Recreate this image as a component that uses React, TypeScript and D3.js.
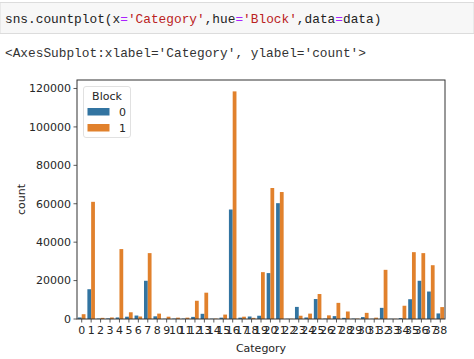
import React from "react";
import * as d3 from "d3";

const categories: number[] = Array.from({ length: 39 }, (_, i) => i);
const block0: number[] = [
  800, 15500, 200, 300, 800, 1200, 1800, 19900, 1400, 100,
  200, 200, 1100, 2700, 150, 700, 57000, 700, 1300, 1700,
  23900, 60300, 100, 6300, 800, 10400, 200, 1500, 600, 200,
  1000, 100, 5800, 100, 500, 10300, 19900, 14300, 2900,
];
const block1: number[] = [
  2500, 61000, 600, 800, 36400, 3500, 1300, 34300, 2800, 1200,
  700, 700, 9500, 13700, 200, 2300, 118500, 1200, 600, 24400,
  68200, 66100, 100, 1700, 2800, 13000, 1900, 8400, 3900, 200,
  3200, 700, 25600, 100, 6900, 34800, 34300, 28000, 6200,
];
const yTicks: number[] = [0, 20000, 40000, 60000, 80000, 100000, 120000];
const hueLevels: string[] = ["0", "1"];
const series: number[][] = [block0, block1];
const colors = ["#3274a1", "#e1812c"];

export default function App() {
  const W = 474, H = 359;
  const left = 77, right = 445, top = 80, bottom = 319;
  const ymax = d3.max(series.flat())! * 1.05;
  const x = d3.scaleLinear().domain([-0.5, categories.length - 0.5]).range([left, right]);
  const y = d3.scaleLinear().domain([0, ymax]).range([bottom, top]);
  const bw = x(0.4) - x(0);
  const mono = "'Liberation Mono', 'DejaVu Sans Mono', monospace";
  const sans = "'DejaVu Sans', sans-serif";
  const textCol = "#262626";

  return (
    <div style={{ position: "fixed", left: 0, top: 0, width: W, height: H, background: "#fff" }}>
      <svg width={W} height={H} style={{ display: "block" }}>
        <rect x={0} y={0} width={W} height={H} fill="#fff" />
        {/* code cell */}
        <rect x={0} y={2.5} width={W} height={31} fill="#f7f7f7" stroke="#dcdcdc" strokeWidth={1} />
        <text x={5} y={23} fontFamily={mono} fontSize={12.8} fill="#222">
          <tspan>sns.countplot(x</tspan>
          <tspan fill="#aa22ff">=</tspan>
          <tspan fill="#ba2121">'Category'</tspan>
          <tspan>,hue</tspan>
          <tspan fill="#aa22ff">=</tspan>
          <tspan fill="#ba2121">'Block'</tspan>
          <tspan>,data</tspan>
          <tspan fill="#aa22ff">=</tspan>
          <tspan>data)</tspan>
        </text>
        <text x={5} y={56.5} fontFamily={mono} fontSize={12.8} fill="#333">
          {"<AxesSubplot:xlabel='Category', ylabel='count'>"}
        </text>

        {/* bars */}
        {series.map((vals, h) =>
          vals.map((v, i) => (
            <rect
              key={`b${h}-${i}`}
              x={x(categories[i] - 0.4 + h * 0.4)}
              y={y(v)}
              width={bw}
              height={y(0) - y(v)}
              fill={colors[h]}
            />
          ))
        )}

        {/* spines */}
        <rect x={left} y={top} width={right - left} height={bottom - top} fill="none" stroke="#333" strokeWidth={1} />

        {/* y ticks */}
        {yTicks.map((t) => (
          <g key={`y${t}`}>
            <line x1={left - 3.5} x2={left} y1={y(t)} y2={y(t)} stroke="#333" strokeWidth={0.8} />
            <text x={left - 6} y={y(t)} dy="0.35em" textAnchor="end" fontFamily={sans} fontSize={11} fill={textCol}>
              {t}
            </text>
          </g>
        ))}
        {/* x ticks */}
        {categories.map((c) => (
          <g key={`x${c}`}>
            <line x1={x(c)} x2={x(c)} y1={bottom} y2={bottom + 3.5} stroke="#333" strokeWidth={0.8} />
            <text x={x(c)} y={bottom + 15} textAnchor="middle" fontFamily={sans} fontSize={11} fill={textCol}>
              {c}
            </text>
          </g>
        ))}
        <text x={(left + right) / 2} y={352} textAnchor="middle" fontFamily={sans} fontSize={11} fill={textCol}>
          Category
        </text>
        <text
          transform={`translate(25,${(top + bottom) / 2}) rotate(-90)`}
          textAnchor="middle"
          fontFamily={sans}
          fontSize={11}
          fill={textCol}
        >
          count
        </text>

        {/* legend */}
        <rect x={83.5} y={86.5} width={47} height={51} rx={2.5} fill="#fff" fillOpacity={0.8} stroke="#d9d9d9" strokeWidth={0.8} />
        <text x={107} y={100} textAnchor="middle" fontFamily={sans} fontSize={11} fill={textCol}>
          Block
        </text>
        {hueLevels.map((l, i) => (
          <g key={`lg${l}`}>
            <rect x={87.5} y={108 + i * 16} width={22} height={7.5} fill={colors[i]} />
            <text x={119} y={112 + i * 16} dy="0.35em" fontFamily={sans} fontSize={11} fill={textCol}>
              {l}
            </text>
          </g>
        ))}
      </svg>
    </div>
  );
}
